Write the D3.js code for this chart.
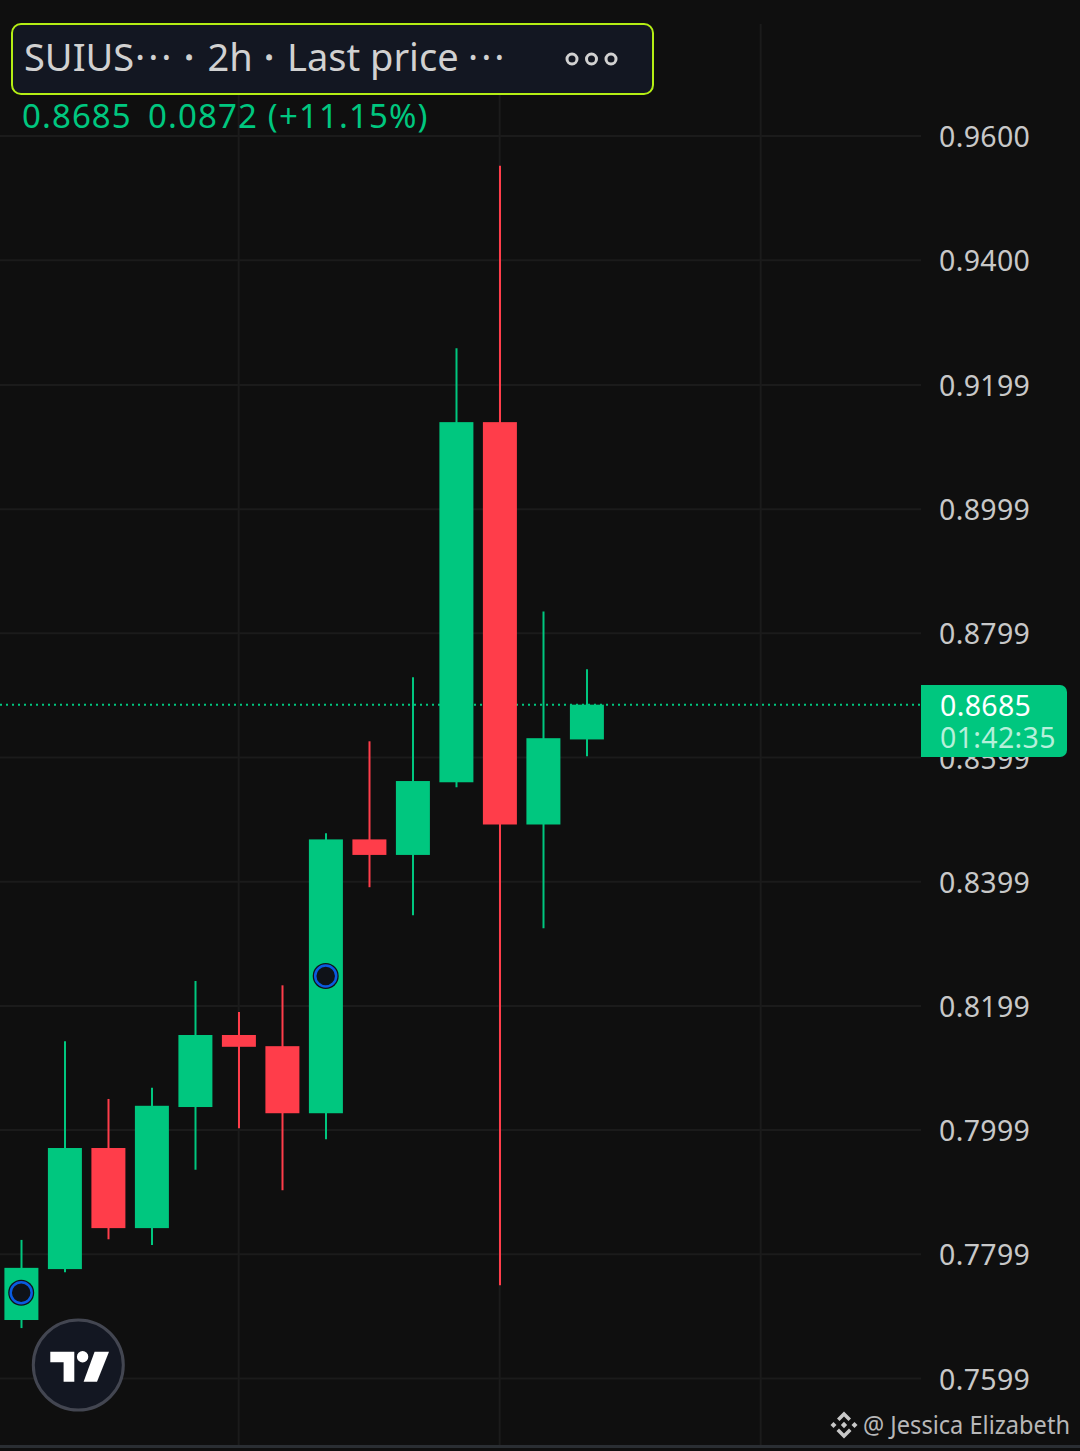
<!DOCTYPE html>
<html><head><meta charset="utf-8">
<script src="https://cdn.jsdelivr.net/npm/d3@7/dist/d3.min.js"></script>
<style>html,body{margin:0;padding:0;background:#0f0f0f}svg{display:block}text{font-family:"Noto Sans",sans-serif}</style>
</head><body><svg id="c" width="1080" height="1451"></svg>
<script>
const opens =[0.7694,0.7776,0.7971,0.7842,0.8037,0.8153,0.8135,0.8027,0.8468,0.8443,0.8560,0.9140,0.8492,0.8629];
const highs =[0.7823,0.8143,0.8050,0.8068,0.8240,0.8190,0.8233,0.8478,0.8626,0.8729,0.9259,0.9553,0.8835,0.8742];
const lows  =[0.7681,0.7771,0.7824,0.7815,0.7936,0.8003,0.7903,0.7985,0.8391,0.8346,0.8552,0.7750,0.8325,0.8602];
const closes=[0.7778,0.7971,0.7842,0.8039,0.8153,0.8134,0.8027,0.8468,0.8443,0.8562,0.9140,0.8492,0.8631,0.8685];
const markers=[0,7];
const markerValues=[0.7738,0.8248];
const priceTicks=[0.96,0.94,0.9199,0.8999,0.8799,0.8599,0.8399,0.8199,0.7999,0.7799,0.7599];
const timeGridIdx=[5,11,17];
const lastPrice=0.8685;
const titleParts=["SUIUS","···","·","2h","·","Last price","···"];
const legendParts=["0.8685","0.0872 (+11.15%)"];
const countdown="01:42:35";
const credit="@ Jessica Elizabeth";

const UP="#00c77f",DOWN="#ff3d4a",BG="#0f0f0f",GRID="#1b1b1b",TXT="#c8c8c8";
const svg=d3.select("#c");
const y=d3.scaleLinear().domain([0.96,0.7599]).range([136.5,1379]);
const x=d3.scaleLinear().domain([0,1]).range([21.2,64.7]);
svg.append("rect").attr("width",1080).attr("height",1451).attr("fill",BG);

svg.append("g").selectAll("line").data(priceTicks).join("line")
 .attr("x1",0).attr("x2",921).attr("y1",d=>y(d)-0.5).attr("y2",d=>y(d)-0.5).attr("stroke",GRID).attr("stroke-width",2);
svg.append("g").selectAll("line").data(timeGridIdx).join("line")
 .attr("x1",d=>x(d)).attr("x2",d=>x(d)).attr("y1",24).attr("y2",1445).attr("stroke",GRID).attr("stroke-width",2);

svg.append("g").selectAll("text").data(priceTicks).join("text")
 .attr("x",939).attr("y",d=>y(d)+10.5).attr("font-size",28.5).attr("letter-spacing",0.35).attr("fill",TXT)
 .text(d=>d.toFixed(4));

// last price line (beneath the candles)
svg.append("line").attr("x1",0).attr("x2",921).attr("y1",y(lastPrice)).attr("y2",y(lastPrice))
 .attr("stroke",UP).attr("stroke-width",2).attr("stroke-dasharray","2 4");

// candles
const idx=d3.range(opens.length);
const col=i=>closes[i]>=opens[i]?UP:DOWN;
svg.append("g").selectAll("line").data(idx).join("line")
 .attr("x1",i=>x(i)+0.3).attr("x2",i=>x(i)+0.3).attr("y1",i=>y(highs[i])).attr("y2",i=>y(lows[i]))
 .attr("stroke",col).attr("stroke-width",2);
svg.append("g").selectAll("rect").data(idx).join("rect")
 .attr("x",i=>x(i)-16.8).attr("width",34)
 .attr("y",i=>y(Math.max(opens[i],closes[i])))
 .attr("height",i=>Math.abs(y(opens[i])-y(closes[i])))
 .attr("fill",col);

// event markers
const mk=svg.append("g").selectAll("g").data(markers).join("g")
 .attr("transform",(d,i)=>`translate(${x(d)},${y(markerValues[i])})`);
mk.append("circle").attr("r",13).attr("fill","#101218");
mk.append("circle").attr("r",10.5).attr("fill","#0f1218").attr("stroke","#0a5be0").attr("stroke-width",2.5);

// price tag
const tag=svg.append("g");
tag.append("path").attr("d","M921,685H1060a7,7 0 0 1 7,7V750a7,7 0 0 1 -7,7H921Z").attr("fill",UP);
tag.append("text").attr("x",940).attr("y",716).attr("font-size",28.5).attr("letter-spacing",0.35).attr("fill","#ffffff").text(lastPrice.toFixed(4));
tag.append("text").attr("x",940).attr("y",748).attr("font-size",28.5).attr("letter-spacing",0.35).attr("fill","#b5f0da").text(countdown);

// header
svg.append("rect").attr("x",12).attr("y",24).attr("width",641).attr("height",70).attr("rx",9)
 .attr("fill","#131722").attr("stroke","#b4ee14").attr("stroke-width",2);
const titleX=[24,135,184,207.5,264,287,468];
svg.append("g").selectAll("text").data(titleParts).join("text")
 .attr("x",(d,i)=>titleX[i]).attr("y",71).attr("font-size",38).attr("fill","#d1d1d1")
 .attr("letter-spacing",d=>d==="···"?3:0)
 .attr("stroke",d=>d==="·"?"#d1d1d1":"none").attr("stroke-width",1)
 .text(d=>d);
svg.append("g").selectAll("circle").data([0,1,2]).join("circle")
 .attr("cx",d=>572+d*19.5).attr("cy",59).attr("r",5).attr("fill","none").attr("stroke","#d1d1d1").attr("stroke-width",3);

// legend
svg.append("text").attr("x",22).attr("y",128).attr("font-size",33).attr("letter-spacing",1.1).attr("fill",UP).text(legendParts[0]);
svg.append("text").attr("x",148).attr("y",128).attr("font-size",33).attr("letter-spacing",1.15).attr("fill",UP).text(legendParts[1]);

// logo
const logo=svg.append("g").attr("transform","translate(78.3,1365)");
logo.append("circle").attr("r",45).attr("fill","#131722").attr("stroke","#434651").attr("stroke-width",3);
logo.append("path").attr("d","M-28,-13.3H-4V16.7H-14.7V-2.7H-28Z").attr("fill","#fff");
logo.append("circle").attr("cx",4.3).attr("cy",-8.3).attr("r",5.7).attr("fill","#fff");
logo.append("path").attr("d","M16.3,-13.3H30.7L18.7,16.7H5.3Z").attr("fill","#fff");

// credit
const bn=svg.append("g").attr("transform","translate(844,1425)").attr("fill","#c8c8c8");
bn.append("path").attr("d","M0,-13.5L7,-6.5L4.5,-4L0,-8.5L-4.5,-4L-7,-6.5Z");
bn.append("path").attr("d","M0,13.5L7.5,6L5,3.5L0,8.5L-5,3.5L-7.5,6Z");
bn.append("path").attr("d","M-13.5,0L-10.5,-3L-7.5,0L-10.5,3Z");
bn.append("path").attr("d","M13.5,0L10.5,-3L7.5,0L10.5,3Z");
bn.append("path").attr("d","M0,-3.2L3.2,0L0,3.2L-3.2,0Z");
svg.append("text").attr("x",863).attr("y",1434).attr("font-size",24.5).attr("fill","#b8b8b8")
 .attr("textLength",207).attr("lengthAdjust","spacingAndGlyphs").text(credit);

// bottom strip
svg.append("rect").attr("x",0).attr("y",1445).attr("width",1080).attr("height",3).attr("fill","#2a2e33");
</script></body></html>
